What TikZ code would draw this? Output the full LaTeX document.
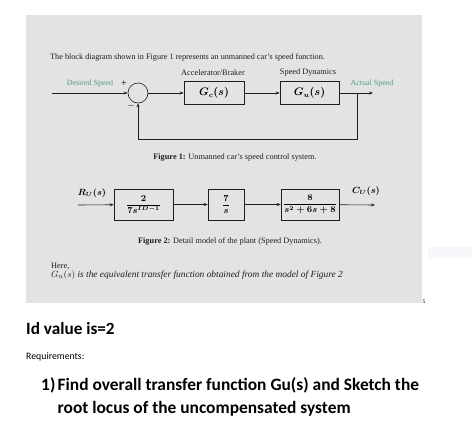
\documentclass[tikz,border=0pt]{standalone}
\usepackage{amsmath,bm}
\usepackage{fontspec}
\setmainfont{Liberation Serif}
\newfontfamily\calib{Carlito}
\usetikzlibrary{arrows.meta}
\definecolor{panel}{RGB}{227,227,227}
\definecolor{teal}{RGB}{82,160,128}
\definecolor{ink}{RGB}{30,30,30}
\begin{document}
\begin{tikzpicture}[x=1pt,y=-1pt,
  blk/.style={draw=ink, line width=0.6pt, minimum height=23pt, inner sep=0pt},
  blk2/.style={draw=ink, line width=0.6pt, minimum height=31pt, inner sep=0pt, font=\fontsize{8.8}{9}\selectfont},
  wire/.style={draw=ink, line width=0.6pt},
  arr/.style={wire, -{Stealth[length=4pt,width=3pt]}},
  small/.style={font=\fontsize{8.3}{9.5}\selectfont, text=ink, inner sep=0pt},
  body/.style={font=\fontsize{8.2}{9.5}\selectfont, text=ink, inner sep=0pt}]
\useasboundingbox (0,0) rectangle (474,445);
\fill[white] (0,0) rectangle (474,445);
\fill[panel] (26,15) rectangle (422,303);
\fill[color={rgb,255:red,246;green,248;blue,252}] (428,247) rectangle (472,258);

% intro
\node[body, anchor=west] (intro) at (50,57) {The block diagram shown in Figure 1 represents an unmanned car’s speed function.};

% Figure 1
\node[circle, draw=ink, line width=0.6pt, minimum size=20pt, inner sep=0pt] (sum) at (138,93) {};
\node[blk, minimum width=60pt, font=\fontsize{10.5}{11}\selectfont] (gc) at (214,93) {$\bm{G_c(s)}$};
\node[blk, minimum width=59pt, font=\fontsize{10.5}{11}\selectfont] (gu) at (309.5,93) {$\bm{G_u(s)}$};
\coordinate (in) at (52,93);
\coordinate (br) at (357,93);
\coordinate (out) at (373,93);
\coordinate (fb) at (357,139);
\draw[arr] (in) -- (sum);
\draw[arr] (sum) -- (gc);
\draw[arr] (gc) -- (gu);
\draw[wire] (gu) -- (br);
\draw[arr] (br) -- (out);
\draw[arr] (br) -- (fb) -| (sum);
\node[font=\fontsize{8}{9}\selectfont, inner sep=0pt, text=teal] (ds) at (90,84) {Desired Speed};
\node[font=\fontsize{10}{10}\selectfont, inner sep=0pt] (plus) at (124,84) {+};
\node[font=\fontsize{10}{10}\selectfont, inner sep=0pt] (minus) at (131,106) {$-$};
\node[small] (acc) at (213,73) {Accelerator/Braker};
\node[small] (sd) at (308,73) {Speed Dynamics};
\node[font=\fontsize{8}{9}\selectfont, inner sep=0pt, text=teal] (as) at (372,84) {Actual Speed};
\node[small] (cap1) at (235,158) {\textbf{Figure 1:} Unmanned car’s speed control system.};

% Figure 2
\node[blk2, minimum width=59pt] (b1) at (143.5,204.5) {$\bm{\dfrac{2}{7s^{ID-1}}}$};
\node[blk2, minimum width=36pt] (b2) at (226,204.5) {$\bm{\dfrac{7}{s}}$};
\node[blk2, minimum width=58pt] (b3) at (310,204.5) {$\bm{\dfrac{8}{s^2+6s+8}}$};
\coordinate (in2) at (78,205);
\coordinate (out2) at (375,205);
\draw[arr] (in2) -- (b1);
\draw[arr] (b1) -- (b2);
\draw[arr] (b2) -- (b3);
\draw[arr] (b3) -- (out2);
\node[font=\fontsize{9}{9}\selectfont, inner sep=0pt] (ru) at (92,193) {$\bm{R_U(s)}$};
\node[font=\fontsize{9}{9}\selectfont, inner sep=0pt] (cu) at (366,191) {$\bm{C_U(s)}$};
\node[small] (cap2) at (230,241) {\textbf{Figure 2:} Detail model of the plant (Speed Dynamics).};

% notes
\node[small, anchor=west] (here) at (51,266) {Here,};
\node[font=\fontsize{9.4}{10}\selectfont, text=ink, inner sep=0pt, anchor=west] (gudef) at (51,275) {$G_u(s)$ \textit{is the equivalent transfer function obtained from the model of Figure 2}};
\node[font=\fontsize{5.5}{5.5}\selectfont, inner sep=0pt] (pg) at (424,302) {5};

% bottom
\node[font=\calib\bfseries\fontsize{17.2}{18}\selectfont, anchor=west, inner sep=0pt] (id) at (26,329) {Id value is=2};
\node[font=\calib\fontsize{9.8}{11}\selectfont, anchor=west, inner sep=0pt] (req) at (26,357) {Requirements:};
\node[font=\calib\bfseries\fontsize{17.4}{19}\selectfont, anchor=west, inner sep=0pt] (n1) at (41,385) {1)};
\node[font=\calib\bfseries\fontsize{17.4}{19}\selectfont, anchor=west, inner sep=0pt] (l1) at (57.5,385) {Find overall transfer function Gu(s) and Sketch the};
\node[font=\calib\bfseries\fontsize{17.4}{19}\selectfont, anchor=west, inner sep=0pt] (l2) at (57.5,409) {root locus of the uncompensated system};
\end{tikzpicture}
\end{document}
